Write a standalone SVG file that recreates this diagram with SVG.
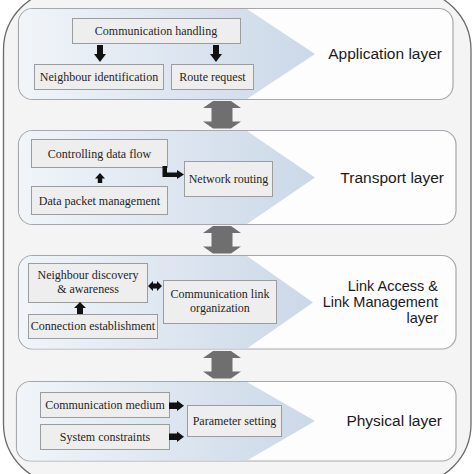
<svg xmlns="http://www.w3.org/2000/svg" width="474" height="474" viewBox="0 0 474 474">
<defs>
<linearGradient id="blue" x1="0" y1="0" x2="1" y2="0">
<stop offset="0" stop-color="#f1f5f9"/>
<stop offset="1" stop-color="#cbd8e8"/>
</linearGradient>
<style>
.outer{fill:#f4f4f4;stroke:#6a6a6a;stroke-width:1.3}
.panel{fill:#fdfdfd;stroke:#a4a8ad;stroke-width:1.2}
.chev{fill:url(#blue)}
.box{fill:#eeeeee;stroke:#9a9c9e;stroke-width:1}
.t{font-family:"Liberation Serif","Times New Roman",serif;font-size:12px;fill:#1e1e1e;text-anchor:middle}
.lab{font-family:"Liberation Sans",Arial,sans-serif;font-size:15.5px;fill:#1a1a1a;text-anchor:end}
.blk{fill:#111111}
.gray{fill:#6f6f6f}
</style>
</defs>
<rect class="outer" x="3.5" y="-10" width="467.5" height="494" rx="60" ry="60"/>

<g id="layer-application">
<rect class="panel" x="18.5" y="8.5" width="434.5" height="91" rx="14"/>
<path class="chev" d="M32.5 9.1H247L315 54L247 98.9H32.5A13.4 13.4 0 0 1 19.1 85.5V22.5A13.4 13.4 0 0 1 32.5 9.1Z"/>
<text class="lab" x="442" y="59">Application layer</text>
</g>
<g id="layer-transport">
<rect class="panel" x="18.5" y="130.5" width="437.5" height="94" rx="14"/>
<path class="chev" d="M32.5 131.1H247L315 177.5L247 223.9H32.5A13.4 13.4 0 0 1 19.1 210.5V144.5A13.4 13.4 0 0 1 32.5 131.1Z"/>
<text class="lab" x="444" y="183">Transport layer</text>
</g>
<g id="layer-link">
<rect class="panel" x="18.5" y="255.5" width="437.5" height="93.5" rx="14"/>
<path class="chev" d="M32.5 256.1H247L313 302.5L247 348.4H32.5A13.4 13.4 0 0 1 19.1 335V269.5A13.4 13.4 0 0 1 32.5 256.1Z"/>
<text class="lab" style="font-size:14.5px" x="438" y="291">Link Access &amp;</text>
<text class="lab" style="font-size:14.5px" x="438" y="307">Link Management</text>
<text class="lab" style="font-size:14.5px" x="438" y="323">layer</text>
</g>
<g id="layer-physical">
<rect class="panel" x="16.5" y="381.5" width="439.5" height="79.5" rx="14"/>
<path class="chev" d="M30.5 382.1H247L315 421L247 460.4H30.5A13.4 13.4 0 0 1 17.1 447V395.5A13.4 13.4 0 0 1 30.5 382.1Z"/>
<text class="lab" x="442" y="426">Physical layer</text>
</g>

<g id="n-comm-handling"><rect class="box" x="72.5" y="18.5" width="168" height="25"/><text class="t" x="156" y="35">Communication handling</text></g>
<g id="n-neigh-ident"><rect class="box" x="34.5" y="64.5" width="129" height="25"/><text class="t" x="99" y="81">Neighbour identification</text></g>
<g id="n-route-req"><rect class="box" x="171.5" y="64.5" width="82" height="25"/><text class="t" x="212.5" y="81">Route request</text></g>

<g id="n-ctrl-flow"><rect class="box" x="31.5" y="139.5" width="136" height="28"/><text class="t" x="99.5" y="157.5">Controlling data flow</text></g>
<g id="n-data-packet"><rect class="box" x="31.5" y="186.5" width="136" height="28"/><text class="t" x="99.5" y="204.5">Data packet management</text></g>
<g id="n-net-routing"><rect class="box" x="184.5" y="161.5" width="88" height="35"/><text class="t" x="228.5" y="183">Network routing</text></g>

<g id="n-neigh-disc"><rect class="box" x="28.5" y="263.5" width="119" height="39"/><text class="t" x="88" y="279">Neighbour discovery</text><text class="t" x="88" y="293">&amp; awareness</text></g>
<g id="n-conn-est"><rect class="box" x="28.5" y="314.5" width="129" height="24"/><text class="t" x="93" y="330">Connection establishment</text></g>
<g id="n-comm-link"><rect class="box" x="163.5" y="280.5" width="113" height="43"/><text class="t" x="220" y="298">Communication link</text><text class="t" x="220" y="312">organization</text></g>

<g id="n-comm-medium"><rect class="box" x="40.5" y="392.5" width="129" height="25"/><text class="t" x="105" y="408.5">Communication medium</text></g>
<g id="n-sys-constr"><rect class="box" x="40.5" y="424.5" width="129" height="25"/><text class="t" x="105" y="440.5">System constraints</text></g>
<g id="n-param"><rect class="box" x="187.5" y="405.5" width="94" height="31"/><text class="t" x="234.5" y="424.5">Parameter setting</text></g>

<g id="connectors">
<polygon class="gray" points="213,101 231,101 241,108 232.5,108 232.5,121.5 241,121.5 231,128.5 213,128.5 203,121.5 211.5,121.5 211.5,108 203,108"/>
<polygon class="gray" points="213,226 231,226 241,233 232.5,233 232.5,246.5 241,246.5 231,253.5 213,253.5 203,246.5 211.5,246.5 211.5,233 203,233"/>
<polygon class="gray" points="213,351 231,351 241,358 232.5,358 232.5,371.5 241,371.5 231,378.5 213,378.5 203,371.5 211.5,371.5 211.5,358 203,358"/>

<polygon class="blk" points="97,45 103,45 103,54 106,54 100,62 94,54 97,54"/>
<polygon class="blk" points="213,45 219,45 219,54 222,54 216,62 210,54 213,54"/>

<polygon class="blk" points="100,173 105,178.5 102.2,178.5 102.2,183 97.8,183 97.8,178.5 95,178.5"/>
<polygon class="blk" points="162.5,166 167,166 167,172.5 177,172.5 177,170 184,174.5 177,179 177,177 162.5,177"/>

<polygon class="blk" points="80,302 86,308 83,308 83,314 77,314 77,308 74,308"/>
<polygon class="blk" points="148,286 153,281 153,283.5 157,283.5 157,281 162,286 157,291 157,288.5 153,288.5 153,291"/>

<polygon class="blk" points="169,402.5 177,402.5 177,400.5 184,405.7 177,411 177,409 169,409"/>
<polygon class="blk" points="169,433.5 177,433.5 177,431.5 184,436.7 177,442 177,440 169,440"/>
</g>
</svg>
